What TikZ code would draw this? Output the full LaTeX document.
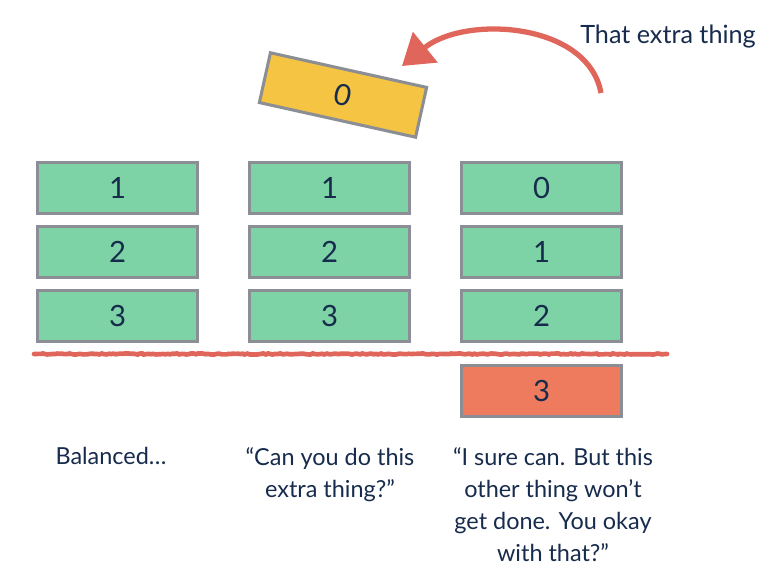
\documentclass[tikz,border=0pt]{standalone}
\usepackage{fontspec}
\setmainfont{Lato}
\usetikzlibrary{positioning, arrows.meta, decorations.pathmorphing}
\definecolor{tkNavy}{HTML}{172B4D}
\definecolor{tkGreen}{HTML}{7DD3A5}
\definecolor{tkYellow}{HTML}{F5C443}
\definecolor{tkCoral}{HTML}{EE7B5E}
\definecolor{tkGrey}{HTML}{8B8E95}
\definecolor{tkRed}{HTML}{E0655A}

\begin{document}
\begin{tikzpicture}[
  x=0.03cm, y=-0.03cm,
  font=\fontsize{20}{27.3}\selectfont, text=tkNavy,
  task/.style={draw=tkGrey, fill=tkGreen, line width=2.6pt, inner sep=0pt,
               minimum width=4.8cm, minimum height=1.53cm,
               font=\fontsize{25}{30}\selectfont},
  extra/.style={task, fill=tkYellow},
  dropped/.style={task, fill=tkCoral},
  caption/.style={anchor=north, align=center, inner sep=0pt},
  crayon/.style={draw=tkRed, line width=4pt, line cap=round,
                 decorate, decoration={random steps, segment length=2pt, amplitude=0.5pt}},
]
\useasboundingbox (0,0) rectangle (768,573);

% ---- Balanced ----
\node[task] (balA) at (117.5,188) {1};
\node[task, below=0.3cm of balA] (balB) {2};
\node[task, below=0.3cm of balB] (balC) {3};

% ---- Asked for more ----
\node[task, right=1.47cm of balA] (askA) {1};
\node[task, below=0.3cm of askA] (askB) {2};
\node[task, below=0.3cm of askB] (askC) {3};

% ---- Reprioritised ----
\node[task, right=1.47cm of askA] (reA) {0};
\node[task, below=0.3cm of reA] (reB) {1};
\node[task, below=0.3cm of reB] (reC) {2};
\node[dropped, below=0.63cm of reC] (reD) {3};

% ---- the extra thing ----
\node[extra, rotate=-12.5] (newtask) at (343,95) {0};
\node[inner sep=0pt, font=\fontsize{21.5}{26}\selectfont] (extralbl) at (668,37) {That extra thing};

% ---- capacity line ----
\draw[crayon] (34,354) -- (667,354);

% ---- arrow ----
\coordinate (arrtail) at (601,93);
\coordinate (arrtip) at (402,66);
\draw[draw=tkRed, line width=4.5pt, -{Triangle[length=0.9cm, width=1.15cm]}]
  (arrtail) .. controls (588,22) and (465,15) .. (arrtip);

% ---- captions ----
\node[caption] (capA) at (111,447) {Balanced…};
\node[caption] (capB) at (330,447) {“Can you do this\\extra thing?”};
\node[caption] (capC) at (553,447) {“I sure can. But this\\other thing won’t\\get done. You okay\\with that?”};
\end{tikzpicture}
\end{document}
